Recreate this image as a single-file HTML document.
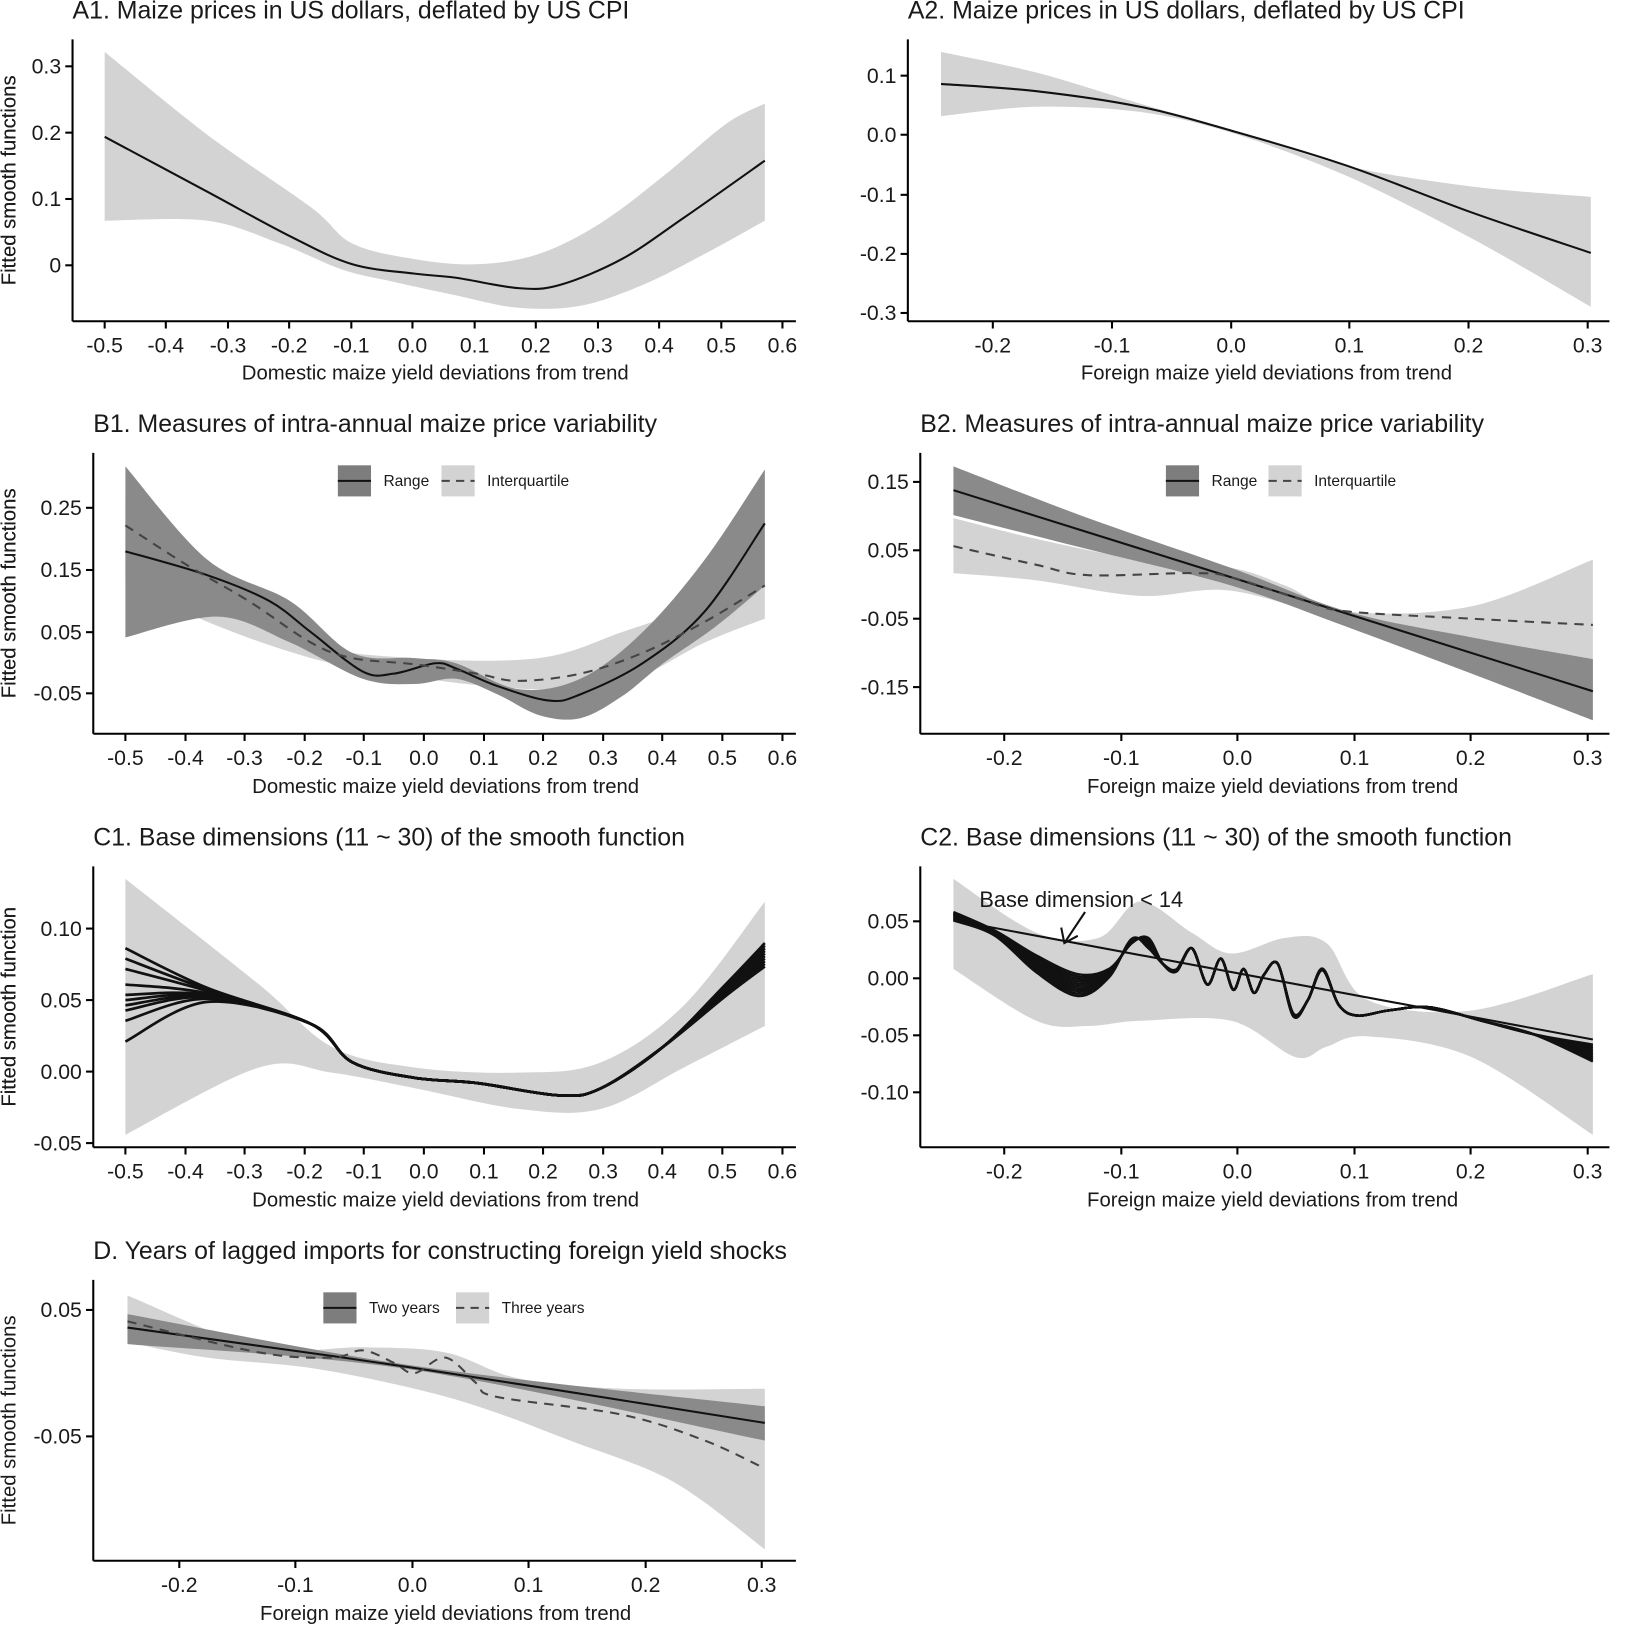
<!DOCTYPE html>
<html><head><meta charset="utf-8"><style>
html,body{margin:0;padding:0;background:#fff}
svg{display:block}
text{font-family:"Liberation Sans",Arial,sans-serif;fill:#1a1a1a}
.t{font-size:24px}.k{font-size:20.5px}.l{font-size:19.6px}.g{font-size:15px}
</style></head><body>
<svg id="s" width="1625" height="1625" viewBox="0 0 1568 1568" xmlns="http://www.w3.org/2000/svg"></svg>
<script>
const S=document.getElementById('s');let out='';
function cr(p){let d='M'+p[0][0]+','+p[0][1];for(let i=0;i<p.length-1;i++){const a=p[i-1]||p[i],b=p[i],c=p[i+1],e=p[i+2]||c;d+=' C'+(b[0]+(c[0]-a[0])/6).toFixed(1)+','+(b[1]+(c[1]-a[1])/6).toFixed(1)+' '+(c[0]-(e[0]-b[0])/6).toFixed(1)+','+(c[1]-(e[1]-b[1])/6).toFixed(1)+' '+c[0]+','+c[1];}return d;}
function band(u,l,f){out+=`<path d="${cr(u)} L${cr(l).slice(1)} Z" fill="${f}"/>`;}
function line(p,w,dash,col){out+=`<path d="${cr(p)}" fill="none" stroke="${col||'#111'}" stroke-width="${w||2}" ${dash?'stroke-dasharray="9,7"':''}/>`;}
function poly(p,w){out+=`<polyline points="${p.map(q=>q.join(',')).join(' ')}" fill="none" stroke="#111" stroke-width="${w||2}" stroke-linejoin="round"/>`;}
function axes(x0,x1,y0,y1,yt,xt,title,tx,xl,xlx,xly,yl){
 out+=`<line x1="${x0}" y1="${y0}" x2="${x0}" y2="${y1}" stroke="#000" stroke-width="2"/><line x1="${x0}" y1="${y1}" x2="${x1}" y2="${y1}" stroke="#000" stroke-width="2"/>`;
 yt.forEach(([v,y])=>{out+=`<line x1="${x0-7}" y1="${y}" x2="${x0}" y2="${y}" stroke="#000" stroke-width="2"/><text class="k" x="${x0-11}" y="${y+7}" text-anchor="end">${v}</text>`});
 xt.forEach(([v,x])=>{out+=`<line x1="${x}" y1="${y1}" x2="${x}" y2="${y1+7}" stroke="#000" stroke-width="2"/><text class="k" x="${x}" y="${y1+30}" text-anchor="middle">${v}</text>`});
 out+=`<text class="t" x="${tx}" y="${y0-20}">${title}</text><text class="l" x="${xlx}" y="${xly}" text-anchor="middle">${xl}</text><text class="l" transform="translate(15,${(y0+y1)/2}) rotate(-90)" text-anchor="middle">${yl}</text>`;
}
function legend(x1,x2,y,a,b,dark){out+=`<rect x="${x1}" y="${y-15}" width="32" height="30" fill="${dark}"/><line x1="${x1}" y1="${y}" x2="${x1+32}" y2="${y}" stroke="#111" stroke-width="2"/><text class="g" x="${x1+44}" y="${y+5}">${a}</text><rect x="${x2}" y="${y-15}" width="32" height="30" fill="#d3d3d3"/><line x1="${x2}" y1="${y}" x2="${x2+32}" y2="${y}" stroke="#444" stroke-width="2" stroke-dasharray="8,6"/><text class="g" x="${x2+44}" y="${y+5}">${b}</text>`;}
const L='#d3d3d3',D='#8a8a8a';
// A1
band([[101,50],[200,130],[300,200],[340,235],[400,250],[460,255],[520,245],[580,215],[640,170],[700,120],[738,100]],[[738,213],[680,245],[620,275],[560,295],[500,297],[440,285],[380,272],[330,260],[270,235],[200,213],[101,213]],L);
line([[101,132],[200,185],[280,228],[340,255],[400,264],[440,268],[500,278],[540,275],[600,250],[660,210],[738,155]]);
axes(70,768,38,310,[['0.3',64],['0.2',128],['0.1',192],['0',256]],['-0.5','-0.4','-0.3','-0.2','-0.1','0.0','0.1','0.2','0.3','0.4','0.5','0.6'].map((v,i)=>[v,Math.round(101+i*59.45)]),'A1. Maize prices in US dollars, deflated by US CPI',70,'Domestic maize yield deviations from trend',420,366,'Fitted smooth functions');
// A2
band([[908,50],[1000,70],[1100,100],[1188,125],[1300,160],[1420,180],[1535,190]],[[1535,296],[1420,230],[1300,170],[1188,128],[1100,108],[1000,103],[908,112]],L);
line([[908,81],[1000,88],[1100,103],[1188,126],[1300,160],[1420,205],[1535,244]]);
axes(876,1553,38,310,[['0.1',73],['0.0',130],['-0.1',188],['-0.2',245],['-0.3',302]],['-0.2','-0.1','0.0','0.1','0.2','0.3'].map((v,i)=>[v,Math.round(958+i*114.8)]),'A2. Maize prices in US dollars, deflated by US CPI',876,'Foreign maize yield deviations from trend',1222,366,'Fitted smooth functions');
// B1
const xB1=['-0.5','-0.4','-0.3','-0.2','-0.1','0.0','0.1','0.2','0.3','0.4','0.5','0.6'].map((v,i)=>[v,Math.round(121+i*57.6)]);
band([[121,480],[200,560],[300,620],[400,635],[520,635],[600,610],[680,580],[738,540]],[[738,597],[680,620],[600,660],[520,665],[450,660],[380,650],[300,635],[200,600],[121,560]],L);
band([[121,450],[200,540],[280,580],[340,630],[400,635],[440,640],[500,665],[560,655],[620,610],[680,540],[738,453]],[[738,565],[690,605],[640,640],[600,672],[560,693],[520,690],[480,670],[440,655],[400,660],[350,655],[280,620],[210,595],[121,615]],D);
line([[121,532],[200,555],[260,580],[300,610],[350,648],[380,650],[420,640],[440,645],[480,662],[530,676],[560,670],[620,640],[680,590],[738,505]]);
line([[121,507],[180,545],[240,580],[300,620],[340,635],[400,641],[460,650],[500,657],[560,650],[620,630],[680,600],[738,565]],2,1,'#444');
axes(90,768,437,708,[['0.25',490],['0.15',550],['0.05',610],['-0.05',669]],xB1,'B1. Measures of intra-annual maize price variability',90,'Domestic maize yield deviations from trend',430,765,'Fitted smooth functions');
legend(326,426,464,'Range','Interquartile','#7d7d7d');
// B2
const xB2=['-0.2','-0.1','0.0','0.1','0.2','0.3'].map((v,i)=>[v,Math.round(969+i*112.6)]);
band([[920,500],[1000,520],[1100,540],[1188,548],[1240,565],[1300,590],[1420,585],[1537,540]],[[1537,668],[1420,625],[1300,600],[1188,570],[1100,575],[1000,560],[920,553]],L);
band([[920,450],[1050,500],[1188,548],[1300,590],[1420,615],[1537,636]],[[1537,695],[1420,650],[1300,605],[1188,565],[1050,530],[920,497]],D);
line([[920,473],[1188,557],[1537,667]]);
line([[920,527],[1000,545],[1050,555],[1150,553],[1188,557],[1260,580],[1300,590],[1420,597],[1537,603]],2,1,'#444');
axes(888,1553,437,708,[['0.15',465],['0.05',531],['-0.05',597],['-0.15',663]],xB2,'B2. Measures of intra-annual maize price variability',888,'Foreign maize yield deviations from trend',1228,765,'Fitted smooth functions');
legend(1125,1224,464,'Range','Interquartile','#7d7d7d');
// C1
band([[121,848],[250,950],[320,1010],[400,1030],[500,1035],[580,1025],[660,970],[738,870]],[[738,990],[660,1030],[580,1070],[500,1070],[400,1050],[320,1035],[250,1030],[121,1095]],L);
[915,925,935,950,960,965,970,975,985,1005].forEach((s,i)=>{const r=910+i*2.5;line([[121,s],[200,960+(s-960)*0.15],[300,988],[340,1025],[400,1040],[460,1045],[540,1057],[580,1050],[640,1010],[700,955+(r-920)*0.5],[738,r]],2.6);});
axes(90,768,836,1107,[['0.10',896],['0.05',965],['0.00',1034],['-0.05',1103]],xB1,'C1. Base dimensions (11 ~ 30) of the smooth function',90,'Domestic maize yield deviations from trend',430,1164,'Fitted smooth function');
// C2
band([[920,848],[1000,900],[1060,905],[1100,870],[1150,900],[1188,920],[1240,905],[1280,910],[1320,965],[1420,975],[1537,940]],[[1537,1095],[1420,1020],[1320,1000],[1280,1010],[1250,1020],[1188,985],[1100,985],[1050,990],[1000,985],[920,935]],L);
poly([[920,888],[1537,1003]],2);
for(let k=0;k<10;k++){const o=k*1.8,a=0.6+k*0.06;line([[920,880+o*0.5],[960,898+o*0.3],[1000,922+o],[1040,940+o*1.3],[1070,935+o*0.5],[1092,915-8*a],[1108,905+o*0.6],[1122,930],[1135,940-4*a],[1150,915],[1165,950],[1178,925],[1190,955],[1200,935],[1210,958],[1220,940],[1233,930],[1248,975+5*a],[1262,965],[1276,938-3*a],[1292,970],[1310,980],[1340,975],[1380,972],[1430,985],[1480,998],[1537,1008+o]],2.4);}
axes(888,1553,836,1107,[['0.05',889],['0.00',944],['-0.05',999],['-0.10',1054]],xB2,'C2. Base dimensions (11 ~ 30) of the smooth function',888,'Foreign maize yield deviations from trend',1228,1164,'Fitted smooth function');
out+=`<text x="945" y="875" style="font-size:21px">Base dimension &lt; 14</text><line x1="1047" y1="880" x2="1027" y2="910" stroke="#111" stroke-width="2"/><polyline points="1024,895 1027,910 1040,903" fill="none" stroke="#111" stroke-width="2"/>`;
// D
band([[123,1250],[250,1300],[350,1300],[430,1305],[500,1330],[600,1340],[738,1340]],[[738,1495],[650,1430],[550,1390],[470,1360],[400,1340],[300,1320],[200,1310],[123,1295]],L);
band([[123,1268],[400,1318],[738,1357]],[[738,1390],[400,1322],[123,1297]],D);
line([[123,1281],[400,1320],[738,1373]]);
line([[123,1275],[250,1305],[320,1310],[350,1303],[380,1315],[400,1325],[430,1310],[460,1335],[480,1348],[600,1365],[680,1390],[738,1417]],2,1,'#444');
axes(90,768,1235,1506,[['0.05',1264],['-0.05',1386]],['-0.2','-0.1','0.0','0.1','0.2','0.3'].map((v,i)=>[v,Math.round(173+i*112.4)]),'D. Years of lagged imports for constructing foreign yield shocks',90,'Foreign maize yield deviations from trend',430,1563,'Fitted smooth functions');
legend(312,440,1262,'Two years','Three years','#7d7d7d');
S.innerHTML=out;
</script>
</body></html>
